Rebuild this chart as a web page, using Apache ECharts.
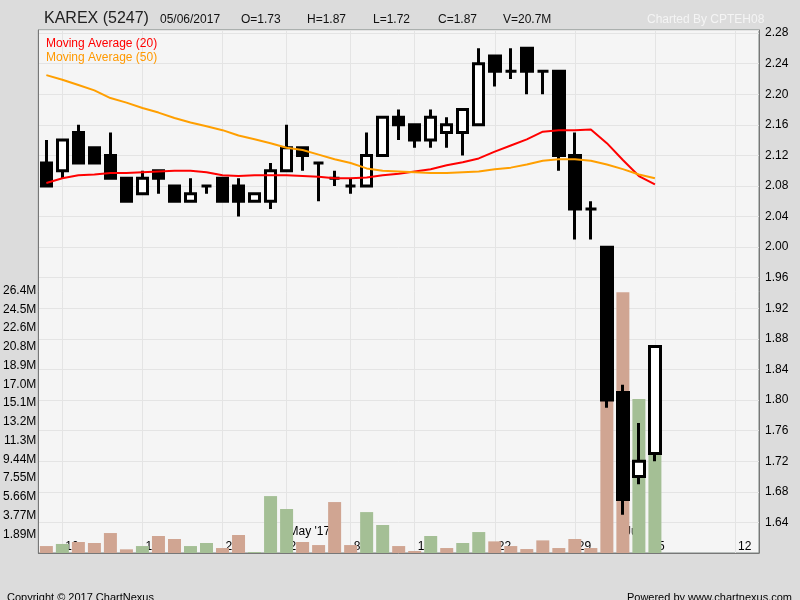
<!DOCTYPE html>
<html>
<head>
<meta charset="utf-8">
<script src="https://cdn.jsdelivr.net/npm/echarts@6/dist/echarts.min.js"></script>
<style>
  html, body { margin: 0; padding: 0; background: #dcdcdc; }
  #chart { width: 800px; height: 600px; }
</style>
</head>
<body>
<div id="chart"></div>
<script>
// trading days, then empty days to the right
const days = [
  'Apr 7', 'Apr 10', 'Apr 11', 'Apr 12', 'Apr 13', 'Apr 14',
  'Apr 17', 'Apr 18', 'Apr 19', 'Apr 20', 'Apr 21',
  'Apr 25', 'Apr 26', 'Apr 27', 'Apr 28',
  'May 2', 'May 3', 'May 4', 'May 5',
  'May 8', 'May 9', 'May 11', 'May 12',
  'May 15', 'May 16', 'May 17', 'May 18', 'May 19',
  'May 22', 'May 23', 'May 24', 'May 25', 'May 26',
  'May 29', 'May 30', 'May 31', 'Jun 1', 'Jun 2',
  'Jun 5', 'Jun 6', 'Jun 7', 'Jun 8', 'Jun 9', 'Jun 12', 'Jun 13'
]
// week ticks and month marks
const weekTicks = { 'Apr 10': '10', 'Apr 17': '17', 'Apr 25': '25', 'May 2': '2', 'May 8': '8',
  'May 15': '15', 'May 22': '22', 'May 29': '29', 'Jun 5': '5', 'Jun 12': '12' }
const monthTicks = { 'May 2': "May '17", 'Jun 1': 'Jun' }

// [open, close, low, high]
const ohlc = [
  [2.11, 2.08, 2.08, 2.14], [2.10, 2.14, 2.09, 2.14], [2.15, 2.11, 2.11, 2.16],
  [2.13, 2.11, 2.11, 2.13], [2.12, 2.09, 2.09, 2.15], [2.09, 2.06, 2.06, 2.09],
  [2.07, 2.09, 2.07, 2.10], [2.10, 2.09, 2.07, 2.10], [2.08, 2.06, 2.06, 2.08],
  [2.06, 2.07, 2.06, 2.09], [2.08, 2.08, 2.07, 2.08],
  [2.09, 2.06, 2.06, 2.09], [2.08, 2.06, 2.04, 2.09], [2.06, 2.07, 2.06, 2.07],
  [2.06, 2.10, 2.05, 2.11],
  [2.10, 2.13, 2.10, 2.16], [2.13, 2.12, 2.10, 2.13], [2.11, 2.11, 2.06, 2.11],
  [2.09, 2.09, 2.08, 2.10],
  [2.08, 2.08, 2.07, 2.09], [2.08, 2.12, 2.08, 2.15], [2.12, 2.17, 2.12, 2.17],
  [2.17, 2.16, 2.14, 2.18],
  [2.16, 2.14, 2.13, 2.16], [2.14, 2.17, 2.13, 2.18], [2.15, 2.16, 2.13, 2.17],
  [2.15, 2.18, 2.12, 2.18], [2.16, 2.24, 2.16, 2.26],
  [2.25, 2.23, 2.21, 2.25], [2.23, 2.23, 2.22, 2.26], [2.26, 2.23, 2.20, 2.26],
  [2.23, 2.23, 2.20, 2.23], [2.23, 2.12, 2.10, 2.23],
  [2.12, 2.05, 2.01, 2.15], [2.05, 2.05, 2.01, 2.06], [2.00, 1.80, 1.79, 2.00],
  [1.81, 1.67, 1.65, 1.82], [1.70, 1.72, 1.69, 1.77],
  [1.73, 1.87, 1.72, 1.87]
]

// volume in millions
const volume = [
  0.70, 0.91, 1.11, 1.01, 2.01, 0.37, 0.70, 1.71, 1.41, 0.70, 1.01,
  0.50, 1.81, 0.10, 5.73, 4.43, 1.11, 0.80, 5.13, 0.80, 4.12, 2.82, 0.70,
  0.20, 1.71, 0.50, 1.01, 2.11, 1.17, 0.70, 0.40, 1.27, 0.50,
  1.41, 0.50, 18.0, 26.25, 15.5, 20.7
]

const ma20 = [
  2.084, 2.090, 2.094, 2.095, 2.097, 2.097, 2.098, 2.099, 2.100, 2.100, 2.098,
  2.094, 2.093, 2.094, 2.094, 2.094, 2.093, 2.092, 2.090, 2.090, 2.091, 2.094,
  2.096, 2.099, 2.102, 2.107, 2.111, 2.116, 2.125, 2.133, 2.141, 2.151, 2.153,
  2.153, 2.154, 2.136, 2.114, 2.093, 2.082
]
const ma50 = [
  2.225, 2.219, 2.212, 2.205, 2.195, 2.189, 2.182, 2.176, 2.169, 2.163, 2.158,
  2.153, 2.146, 2.141, 2.136, 2.130, 2.127, 2.121, 2.115, 2.110, 2.103, 2.100,
  2.099, 2.098, 2.097, 2.097, 2.098, 2.099, 2.102, 2.104, 2.108, 2.113, 2.115,
  2.115, 2.113, 2.108, 2.102, 2.095, 2.090
]

const volTickLabels = ['1.89M', '3.77M', '5.66M', '7.55M', '9.44M', '11.3M', '13.2M',
  '15.1M', '17.0M', '18.9M', '20.8M', '22.6M', '24.5M', '26.4M']
const volStep = 1.8875

// volume bar colour: up vs previous close
const volColors = ohlc.map((d, i) => (i > 0 && d[1] > ohlc[i - 1][1]) ? '#a4bf95' : '#d0a592')

const font = 'Liberation Sans, Arial, sans-serif'
const chart = echarts.init(document.getElementById('chart'))

const isWeek = (i) => weekTicks[days[i]] !== undefined
const isMonth = (i) => monthTicks[days[i]] !== undefined

chart.setOption({
  backgroundColor: '#dcdcdc',
  animation: false,
  title: [
    { text: 'KAREX (5247)', left: 39, top: 6, textStyle: { fontFamily: font, fontSize: 16, fontWeight: 'normal', color: '#222' } },
    { text: '05/06/2017', left: 155, top: 9, textStyle: { fontFamily: font, fontSize: 12, fontWeight: 'normal', color: '#111' } },
    { text: 'O=1.73', left: 236, top: 9, textStyle: { fontFamily: font, fontSize: 12, fontWeight: 'normal', color: '#111' } },
    { text: 'H=1.87', left: 302, top: 9, textStyle: { fontFamily: font, fontSize: 12, fontWeight: 'normal', color: '#111' } },
    { text: 'L=1.72', left: 368, top: 9, textStyle: { fontFamily: font, fontSize: 12, fontWeight: 'normal', color: '#111' } },
    { text: 'C=1.87', left: 433, top: 9, textStyle: { fontFamily: font, fontSize: 12, fontWeight: 'normal', color: '#111' } },
    { text: 'V=20.7M', left: 498, top: 9, textStyle: { fontFamily: font, fontSize: 12, fontWeight: 'normal', color: '#111' } },
    { text: 'Charted By CPTEH08', left: 642, top: 9, textStyle: { fontFamily: font, fontSize: 12, fontWeight: 'normal', color: '#f4f4f4' } },
    { text: 'Moving Average (20)', left: 41, top: 33, textStyle: { fontFamily: font, fontSize: 12, fontWeight: 'normal', color: '#ff0000' } },
    { text: 'Moving Average (50)', left: 41, top: 47, textStyle: { fontFamily: font, fontSize: 12, fontWeight: 'normal', color: '#ff9900' } },
    { text: 'Copyright © 2017 ChartNexus', left: 2, top: 587, textStyle: { fontFamily: font, fontSize: 11, fontWeight: 'normal', color: '#000' } },
    { text: 'Powered by www.chartnexus.com', right: 3, top: 587, textStyle: { fontFamily: font, fontSize: 11, fontWeight: 'normal', color: '#000' } }
  ],
  grid: { left: 38, right: 41, top: 30, bottom: 47, show: true, backgroundColor: '#f5f5f5', borderColor: '#7a8480', borderWidth: 1 },
  xAxis: [
    {
      type: 'category', data: days, boundaryGap: true,
      axisLine: { lineStyle: { color: '#777' } },
      axisTick: { alignWithLabel: true, length: 14, interval: isWeek, lineStyle: { color: '#555' } },
      axisLabel: {
        interval: isWeek, align: 'left', verticalAlign: 'top', margin: -12, padding: [0, 0, 0, 3],
        fontFamily: font, fontSize: 12, color: '#000',
        formatter: (v) => weekTicks[v] || ''
      },
      splitLine: { show: true, alignWithLabel: true, interval: isWeek, lineStyle: { color: '#e4e4e4', width: 1 } }
    },
    {
      type: 'category', data: days, boundaryGap: true, position: 'bottom',
      axisLine: { show: false },
      axisTick: { alignWithLabel: true, length: 30, interval: isMonth, lineStyle: { color: '#555' } },
      axisLabel: {
        interval: isMonth, align: 'left', verticalAlign: 'top', margin: -27, padding: [0, 0, 0, 2],
        fontFamily: font, fontSize: 12, color: '#000',
        formatter: (v) => monthTicks[v] || ''
      },
      splitLine: { show: false }
    }
  ],
  yAxis: [
    {
      type: 'value', position: 'right', min: 1.60, max: 2.284, interval: 0.04,
      axisLine: { show: true, lineStyle: { color: '#777' } },
      axisTick: { show: false },
      axisLabel: { showMinLabel: false, showMaxLabel: false, margin: 6, fontFamily: font, fontSize: 12, color: '#000',
        formatter: (v) => v.toFixed(2) },
      splitLine: { lineStyle: { color: '#e4e4e4', width: 1 } }
    },
    {
      type: 'value', position: 'left', min: 0, max: volStep * 27.9, interval: volStep,
      axisLine: { show: true, lineStyle: { color: '#777' } },
      axisTick: { show: false },
      axisLabel: {
        margin: 2, fontFamily: font, fontSize: 12, color: '#000', showMaxLabel: false,
        formatter: (v) => volTickLabels[Math.round(v / volStep) - 1] || ''
      },
      splitLine: { show: false }
    }
  ],
  series: [
    {
      type: 'bar', yAxisIndex: 1, barWidth: 13, z: 1,
      data: volume.map((v, i) => ({ value: v, itemStyle: { color: volColors[i] } }))
    },
    {
      type: 'candlestick', yAxisIndex: 0, barWidth: 11, z: 3,
      data: ohlc,
      itemStyle: { color: '#ffffff', color0: '#000000', borderColor: '#000000', borderColor0: '#000000', borderWidth: 3 }
    },
    {
      type: 'line', yAxisIndex: 0, data: ma20, symbol: 'none', z: 4,
      lineStyle: { color: '#ff0000', width: 2 }
    },
    {
      type: 'line', yAxisIndex: 0, data: ma50, symbol: 'none', z: 4,
      lineStyle: { color: '#ff9f00', width: 2 }
    }
  ]
})
</script>
</body>
</html>
